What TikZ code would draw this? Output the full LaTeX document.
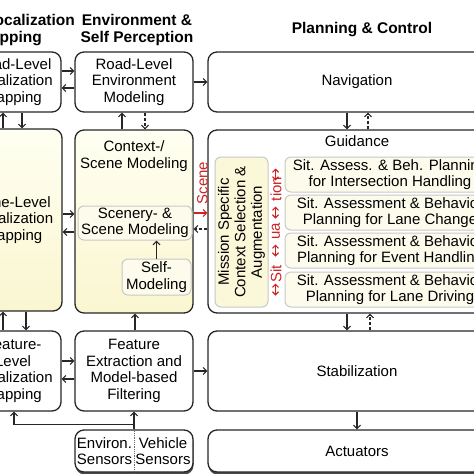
\documentclass[tikz,border=0pt]{standalone}
\usepackage{fontspec}
\setmainfont{Liberation Sans}
\usetikzlibrary{arrows.meta,shadows,calc}
\definecolor{redc}{RGB}{205,35,35}
\definecolor{ytop}{RGB}{255,255,242}
\definecolor{ybot}{RGB}{250,246,208}
\definecolor{ifill}{RGB}{252,251,236}
\definecolor{mfill}{RGB}{251,248,218}
\definecolor{iborder}{RGB}{200,200,200}
\newcommand\myfs{\fontsize{15}{16.6}\selectfont}
\newcommand\mytf{\fontsize{15.5}{17}\selectfont\bfseries}
\begin{document}
\begin{tikzpicture}[x=1pt,y=-1pt,
  box/.style={draw=black!85, line width=1.3pt, rounded corners=9pt, align=center, inner sep=0pt, font=\myfs, fill=white},
  ybox/.style={box, top color=ytop, bottom color=ybot},
  ibox/.style={draw=iborder, line width=1pt, rounded corners=6pt, align=center, inner sep=0pt, font=\myfs, fill=ifill},
  mbox/.style={ibox, fill=mfill},
  shbox/.style={box, drop shadow={shadow xshift=0.5pt, shadow yshift=-2.5pt, fill=black!70, opacity=1}},
  arr/.style={-{Straight Barb[length=3.5pt,width=7pt]}, line width=1.1pt, draw=black!85},
  darr/.style={arr, dash pattern=on 3pt off 2pt},
  rarr/.style={{Straight Barb[length=3pt,width=6pt]}-{Straight Barb[length=3pt,width=6pt]}, line width=1.1pt, draw=redc},
  rtext/.style={rotate=90, text=redc, font=\myfs, inner sep=0pt},
  title/.style={font=\mytf, inner sep=0pt, align=center}]
\useasboundingbox (0,0) rectangle (474,474);
\clip (0,0) rectangle (474,474);

% titles
\node[title, anchor=base east] (tloc) at (75,25) {Localization};
\node[title, anchor=base east] (tmap) at (42,42) {Mapping};
\node[title, anchor=base] (tenv) at (137,42) {Environment \&\\Self Perception};
\node[title, anchor=base] (tplan) at (362,33) {Planning \& Control};

% left column
\node[box, minimum width=96pt, minimum height=60pt] (rlloc) at (13,82) {Road-Level\\Localization\\Mapping};
\node[ybox, minimum width=97pt, minimum height=182pt] (llloc) at (13.5,220) {Lane-Level\\Localization\\Mapping};
\node[box, minimum width=96pt, minimum height=80pt] (flloc) at (13,371) {Feature-\\Level\\Localization\\Mapping};

% middle column
\node[box, minimum width=118pt, minimum height=60pt] (rlenv) at (134,82) {Road-Level\\Environment\\Modeling};
\node[ybox, minimum width=118pt, minimum height=183pt] (ctx) at (134,221.5) {};
\node[font=\myfs, align=center, anchor=base, inner sep=0pt] (ctxl) at ($(ctx.north)+(0,39)$) {Context-/\\Scene Modeling};
\node[ibox, minimum width=114pt, minimum height=34pt] (scen) at (135,223) {Scenery- \&\\Scene Modeling};
\node[ibox, minimum width=69pt, minimum height=36pt] (self) at (156.5,277) {Self-\\Modeling};
\node[box, minimum width=118pt, minimum height=80pt] (feat) at (134,371) {Feature\\Extraction and\\Model-based\\Filtering};
\node[shbox, minimum width=118pt, minimum height=42pt] (sens) at (134,451) {};
\node[font=\myfs, align=center, inner sep=0pt] (envs) at (104.5,451) {Environ.\\Sensors};
\node[font=\myfs, align=center, inner sep=0pt] (vehs) at (163,451) {Vehicle\\Sensors};
\draw[densely dotted, line width=0.8pt, black!60] (sens.north) -- (sens.south);

% right column
\node[box, minimum width=298pt, minimum height=60pt] (nav) at (357,82) {Navigation};
\node[box, minimum width=298pt, minimum height=183pt] (guid) at (357,221.5) {};
\node[font=\myfs, anchor=base, inner sep=0pt] (guidl) at ($(guid.north)+(0,17)$) {Guidance};
\node[mbox, rotate=90, minimum width=150pt, minimum height=53pt] (miss) at (241.5,232) {Mission Specific\\Context Selection \&\\Augmentation};
\node[ibox, minimum width=210pt, minimum height=35pt] (sit1) at (390,174.5) {Sit. Assess. \& Beh. Planning\\for Intersection Handling};
\node[ibox, minimum width=210pt, minimum height=35pt] (sit2) at (390,212.5) {Sit. Assessment \& Behavior\\Planning for Lane Change};
\node[ibox, minimum width=210pt, minimum height=35pt] (sit3) at (390,250.5) {Sit. Assessment \& Behavior\\Planning for Event Handling};
\node[ibox, minimum width=210pt, minimum height=35pt] (sit4) at (390,289.5) {Sit. Assessment \& Behavior\\Planning for Lane Driving};
\node[box, minimum width=298pt, minimum height=80pt] (stab) at (357,371) {Stabilization};
\node[shbox, minimum width=298pt, minimum height=42pt] (act) at (357,451) {Actuators};

% red situation markers
\foreach \s in {sit1,sit2,sit3,sit4}{
  \draw[rarr] ($(\s.west)+(-9,-6)$) -- ($(\s.west)+(-9,6)$);
}
\node[rtext] (tion) at (276,189) {tion};
\node[rtext] (ua) at (276,231) {ua};
\node[rtext] (sit) at (276,274) {Sit};
\node[rtext] (scene) at (202.5,183) {Scene};

% helper coordinates
\coordinate (x3) at (3,0);
\coordinate (x14) at (14,0);
\coordinate (x22) at (22,0);
\coordinate (x26) at (26,0);
\coordinate (x122) at (122,0);
\coordinate (x135) at (135,0);
\coordinate (x145) at (145,0);
\coordinate (x347) at (347,0);
\coordinate (x368) at (368,0);
\coordinate (x370) at (370,0);
\coordinate (y71) at (0,71);
\coordinate (y88) at (0,88);
\coordinate (y213) at (0,213);
\coordinate (y214) at (0,214);
\coordinate (y229) at (0,229);
\coordinate (y232) at (0,232);
\coordinate (y361) at (0,361);
\coordinate (y379) at (0,379);

% connectors
\draw[arr] (x22 |- rlloc.south) -- (x22 |- llloc.north);
\draw[arr] (x3 |- llloc.north) -- (x3 |- rlloc.south);
\draw[arr] (x26 |- llloc.south) -- (x26 |- flloc.north);
\draw[arr] (x3 |- flloc.north) -- (x3 |- llloc.south);
\draw[arr] (rlloc.east |- y71) -- (rlenv.west |- y71);
\draw[arr] (rlenv.west |- y88) -- (rlloc.east |- y88);
\draw[arr] (llloc.east |- y214) -- (ctx.west |- y214);
\draw[arr] (ctx.west |- y232) -- (llloc.east |- y232);
\draw[arr] (flloc.east |- y361) -- (feat.west |- y361);
\draw[arr] (feat.west |- y379) -- (flloc.east |- y379);
\draw[arr] (x122 |- ctx.north) -- (x122 |- rlenv.south);
\draw[darr] (x145 |- rlenv.south) -- (x145 |- ctx.north);
\draw[arr] (x135 |- feat.north) -- (x135 |- ctx.south);
\draw[arr] (self.north) -- (self.north |- scen.south);
\draw[arr] (sens.north) -- (feat.south);
\draw[arr] (sens.north) -- ++(0,-5) -| (x14 |- flloc.south);
\draw[arr] (rlenv.east) -- (nav.west);
\draw[arr] (feat.east) -- (stab.west);
\draw[arr] (x347 |- nav.south) -- (x347 |- guid.north);
\draw[darr] (x368 |- guid.north) -- (x368 |- nav.south);
\draw[arr] (x347 |- guid.south) -- (x347 |- stab.north);
\draw[darr] (x370 |- stab.north) -- (x370 |- guid.south);
\draw[arr] (stab.south) -- (act.north);
\draw[arr, draw=redc] (ctx.east |- y213) -- (guid.west |- y213);
\draw[darr] (guid.west |- y229) -- (ctx.east |- y229);
\end{tikzpicture}
\end{document}
